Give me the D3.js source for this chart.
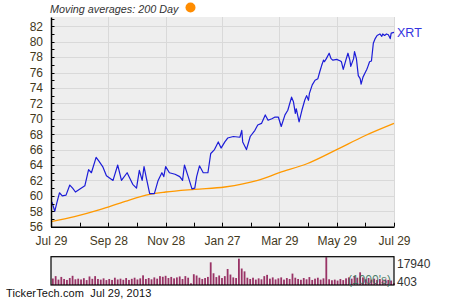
<!DOCTYPE html>
<html><head><meta charset="utf-8">
<script src="https://cdn.jsdelivr.net/npm/d3@7"></script>
<style>body{margin:0;background:#fff}svg{display:block;font-family:"Liberation Sans",Arial,sans-serif}</style>
</head><body><svg id="c" width="450" height="300"></svg>
<script>
// ---- data ----
const xrtDates = ["2012-07-30","2012-08-02","2012-08-04","2012-08-07","2012-08-10","2012-08-14","2012-08-18","2012-08-21","2012-08-24","2012-08-30",
"2012-09-03","2012-09-07","2012-09-10","2012-09-15","2012-09-18","2012-09-22","2012-09-26","2012-10-03","2012-10-08","2012-10-12",
"2012-10-18","2012-10-24","2012-10-28","2012-10-31","2012-11-03","2012-11-05","2012-11-08","2012-11-11","2012-11-16","2012-11-20",
"2012-11-24","2012-11-26","2012-11-28","2012-12-02","2012-12-08","2012-12-13","2012-12-16","2012-12-18","2012-12-22","2012-12-26",
"2012-12-29","2012-12-31","2013-01-03","2013-01-07","2013-01-12","2013-01-15","2013-01-19","2013-01-23","2013-01-26","2013-01-30",
"2013-02-02","2013-02-08","2013-02-15","2013-02-17","2013-02-18","2013-02-22","2013-02-26","2013-03-03","2013-03-06","2013-03-10",
"2013-03-14","2013-03-17","2013-03-21","2013-03-24","2013-03-28","2013-03-31","2013-04-04","2013-04-07","2013-04-11","2013-04-13",
"2013-04-15","2013-04-16","2013-04-19","2013-04-22","2013-04-25","2013-04-27","2013-04-29","2013-04-30","2013-05-03","2013-05-06",
"2013-05-09","2013-05-11","2013-05-13","2013-05-15","2013-05-16","2013-05-18","2013-05-21","2013-05-23","2013-05-25","2013-05-29",
"2013-06-02","2013-06-03","2013-06-05","2013-06-08","2013-06-10","2013-06-12","2013-06-13","2013-06-16","2013-06-17","2013-06-19",
"2013-06-21","2013-06-23","2013-06-24","2013-06-26","2013-06-28","2013-06-30","2013-07-01","2013-07-03","2013-07-05","2013-07-07",
"2013-07-09","2013-07-11","2013-07-14","2013-07-16","2013-07-17","2013-07-19","2013-07-21","2013-07-23","2013-07-25","2013-07-26","2013-07-29"];
const xrtValues = [59.2,58.0,59.0,60.4,60.0,60.1,61.4,61.0,60.5,61.0,
61.3,63.4,63.0,65.0,64.5,63.8,62.6,62.0,64.0,62.0,
63.0,61.5,61.0,63.3,62.0,63.8,62.0,60.3,60.3,62.0,
63.0,62.5,63.8,63.0,62.8,62.5,62.0,64.0,62.5,60.9,
61.0,62.5,63.9,63.0,63.0,65.5,66.0,67.0,66.2,67.0,
67.5,67.7,67.6,68.5,67.0,66.0,67.7,68.5,69.2,69.4,
70.5,69.8,70.0,70.2,70.2,69.0,70.5,71.1,72.8,72.2,
70.7,71.3,69.6,71.1,72.4,73.0,72.4,73.3,74.4,75.0,
75.2,76.1,76.9,77.6,77.4,77.8,78.5,77.8,77.6,77.7,
77.5,77.4,76.4,77.7,78.5,77.6,76.8,77.8,78.7,77.8,
75.6,75.2,74.5,75.4,75.9,76.4,76.7,77.4,77.5,79.8,
80.4,80.8,81.0,80.7,81.0,80.8,81.0,80.9,80.4,81.1,81.2];
const maDates = ["2012-07-29","2012-08-23","2012-09-19","2012-10-16","2012-11-11","2012-11-28","2012-12-29","2013-01-30","2013-03-06","2013-03-29","2013-04-28","2013-05-29","2013-06-28","2013-07-29"];
const maValues = [56.65,57.3,58.2,59.3,60.2,60.5,60.85,61.15,62.0,63.0,64.2,66.0,67.8,69.4];
const volStart = "2012-07-30";
const volStepDays = 3;
const volValues = [4500,6000,3800,5500,4200, 3600,4800,6200,4000,4400, 3900,4700,3500,5800,4300, 6000,4200,3800,4600,3500,
4200,3600,5000,3900,4400, 3700,4800,3600,4300,5000, 3900,4600,6500,4200,4800, 4000,5200,4400,6000,5600,
6200,4800,5500,4600,5200, 5800,4200,6000,5000,1500, 7200,6400,5000,4200,4800, 5500,14700,7800,5400,6400,
4800,6000,10500,7000,5200, 4800,17000,10800,9000,5000, 4200,5000,3800,4600,4000, 6000,6800,4400,5200,3900,
4600,5200,3800,4800,4200, 7600,5000,4200,3700,4800, 4000,5400,3600,4400,5000, 3800,4600,17940,4000,3400,
3800,3200,4200,3500,4600, 5200,4400,6000,5000,8400, 5200,4000,4800,3800,4400, 3600,4200,3400,4000,3600, 3200,1500];
const xTickDates = ["2012-07-29","2012-09-28","2012-11-28","2013-01-27","2013-03-29","2013-05-29","2013-07-29"];
const xTickLabels = ["Jul 29","Sep 28","Nov 28","Jan 27","Mar 29","May 29","Jul 29"];
const yTickValues = [56,58,60,62,64,66,68,70,72,74,76,78,80,82];
const volTickLabels = ["17940","403"];
const volRange = [403,17940];
const seriesName = "XRT";
const titleText = "Moving averages: 200 Day";
const footerText = "TickerTech.com  Jul 29, 2013";
const unitText = "(1000's)";

// ---- drawing ----
const parse = d3.utcParse("%Y-%m-%d");
const svg = d3.select("#c");
const L = 51, R = 394, T = 17, B = 226.7;
const x = d3.scaleUtc().domain([parse(xTickDates[0]), parse(xTickDates[xTickDates.length-1])]).range([L, R]);
const y = d3.scaleLinear().domain([56, 83.2]).range([B, T]);
const textCol = "#43391c";

svg.append("rect").attr("x",L).attr("y",T).attr("width",R-L).attr("height",B-T).attr("fill","#eeeeee");
svg.append("g").selectAll("line").data(yTickValues).join("line")
  .attr("x1",L).attr("x2",R).attr("y1",d=>Math.round(y(d))+0.5).attr("y2",d=>Math.round(y(d))+0.5)
  .attr("stroke","#d9d9d9").attr("stroke-width",1);
const tickDates = xTickDates.map(parse);
svg.append("g").selectAll("line").data(tickDates.slice(1)).join("line")
  .attr("x1",d=>Math.round(x(d))+0.5).attr("x2",d=>Math.round(x(d))+0.5).attr("y1",T).attr("y2",B)
  .attr("stroke","#d9d9d9").attr("stroke-width",1);

const maData = maDates.map((d,i)=>({d:parse(d),v:maValues[i]}));
svg.append("path").datum(maData)
  .attr("d", d3.line().x(p=>x(p.d)).y(p=>y(p.v)).curve(d3.curveMonotoneX))
  .attr("fill","none").attr("stroke","#ff9900").attr("stroke-width",1.3);
const xrtData = xrtDates.map((d,i)=>({d:parse(d),v:xrtValues[i]}));
svg.append("path").datum(xrtData)
  .attr("d", d3.line().x(p=>x(p.d)).y(p=>y(p.v)))
  .attr("fill","none").attr("stroke","#1c1cd8").attr("stroke-width",1.2).attr("stroke-linejoin","round");

const yAxis = d3.axisLeft(y).tickValues(yTickValues).tickSize(0).tickPadding(8).tickFormat(d3.format("d"));
const gy = svg.append("g").attr("transform",`translate(${L},0)`).call(yAxis);
gy.select(".domain").attr("stroke","#000").attr("stroke-width",1.5);
gy.selectAll("text").attr("font-size",12).attr("fill",textCol).attr("font-family","Liberation Sans, Arial, sans-serif");
svg.append("g").selectAll("line").data(d3.range(56,84,1)).join("line")
  .attr("x1",L).attr("x2",L+3.5).attr("y1",d=>Math.round(y(d))+0.5).attr("y2",d=>Math.round(y(d))+0.5)
  .attr("stroke","#000").attr("stroke-width",1);

const xAxis = d3.axisBottom(x).tickValues(tickDates).tickSize(0).tickPadding(10).tickFormat((d,i)=>xTickLabels[i]);
const gx = svg.append("g").attr("transform",`translate(0,${B})`).call(xAxis);
gx.select(".domain").attr("stroke","#000").attr("stroke-width",1.5);
gx.selectAll("text").attr("font-size",12).attr("fill",textCol).attr("font-family","Liberation Sans, Arial, sans-serif");
const minor = tickDates.slice(0,-1).map((d,i)=>new Date((d.getTime()+tickDates[i+1].getTime())/2));
svg.append("g").selectAll("line").data(tickDates.concat(minor)).join("line")
  .attr("x1",d=>Math.round(x(d))+0.5).attr("x2",d=>Math.round(x(d))+0.5).attr("y1",B).attr("y2",B-4)
  .attr("stroke","#000").attr("stroke-width",1);

svg.append("text").attr("x",R+3).attr("y",y(xrtValues[xrtValues.length-1])+4.5).text(seriesName)
  .attr("font-size",12.5).attr("fill","#3434e0");

svg.append("text").attr("x",50).attr("y",13).text(titleText)
  .attr("font-size",10.8).attr("font-style","italic").attr("fill","#333");
svg.append("circle").attr("cx",190.5).attr("cy",7.5).attr("r",5).attr("fill","#ff8c00");

const VT = 256.7, VB = 285;
const vs = parse(volStart);
const vx = d => x(d3.utcDay.offset(vs, d*volStepDays));
const vy = d3.scaleLinear().domain(volRange).range([VB, VT+0.5]);
svg.append("rect").attr("x",L).attr("y",VT).attr("width",R-L).attr("height",VB-VT).attr("fill","#eeeeee");
svg.append("g").selectAll("rect").data(volValues).join("rect")
  .attr("x",(d,i)=>vx(i)).attr("width",1.8).attr("y",d=>vy(d)).attr("height",d=>VB-vy(d))
  .attr("fill","#993366");
svg.append("rect").attr("x",L).attr("y",VT).attr("width",R-L).attr("height",VB-VT)
  .attr("fill","none").attr("stroke","#000").attr("stroke-width",1.2);
svg.append("text").attr("x",348).attr("y",284).text(unitText).attr("font-size",12).attr("fill","#2e6b52").attr("fill-opacity",0.85);
svg.append("text").attr("x",397).attr("y",268).text(volTickLabels[0]).attr("font-size",12).attr("fill","#333");
svg.append("text").attr("x",397).attr("y",286).text(volTickLabels[1]).attr("font-size",12).attr("fill","#333");

svg.append("text").attr("x",6).attr("y",297).text(footerText).attr("font-size",11).attr("letter-spacing",0.1)
  .attr("fill","#111").style("white-space","pre");
</script></body></html>
